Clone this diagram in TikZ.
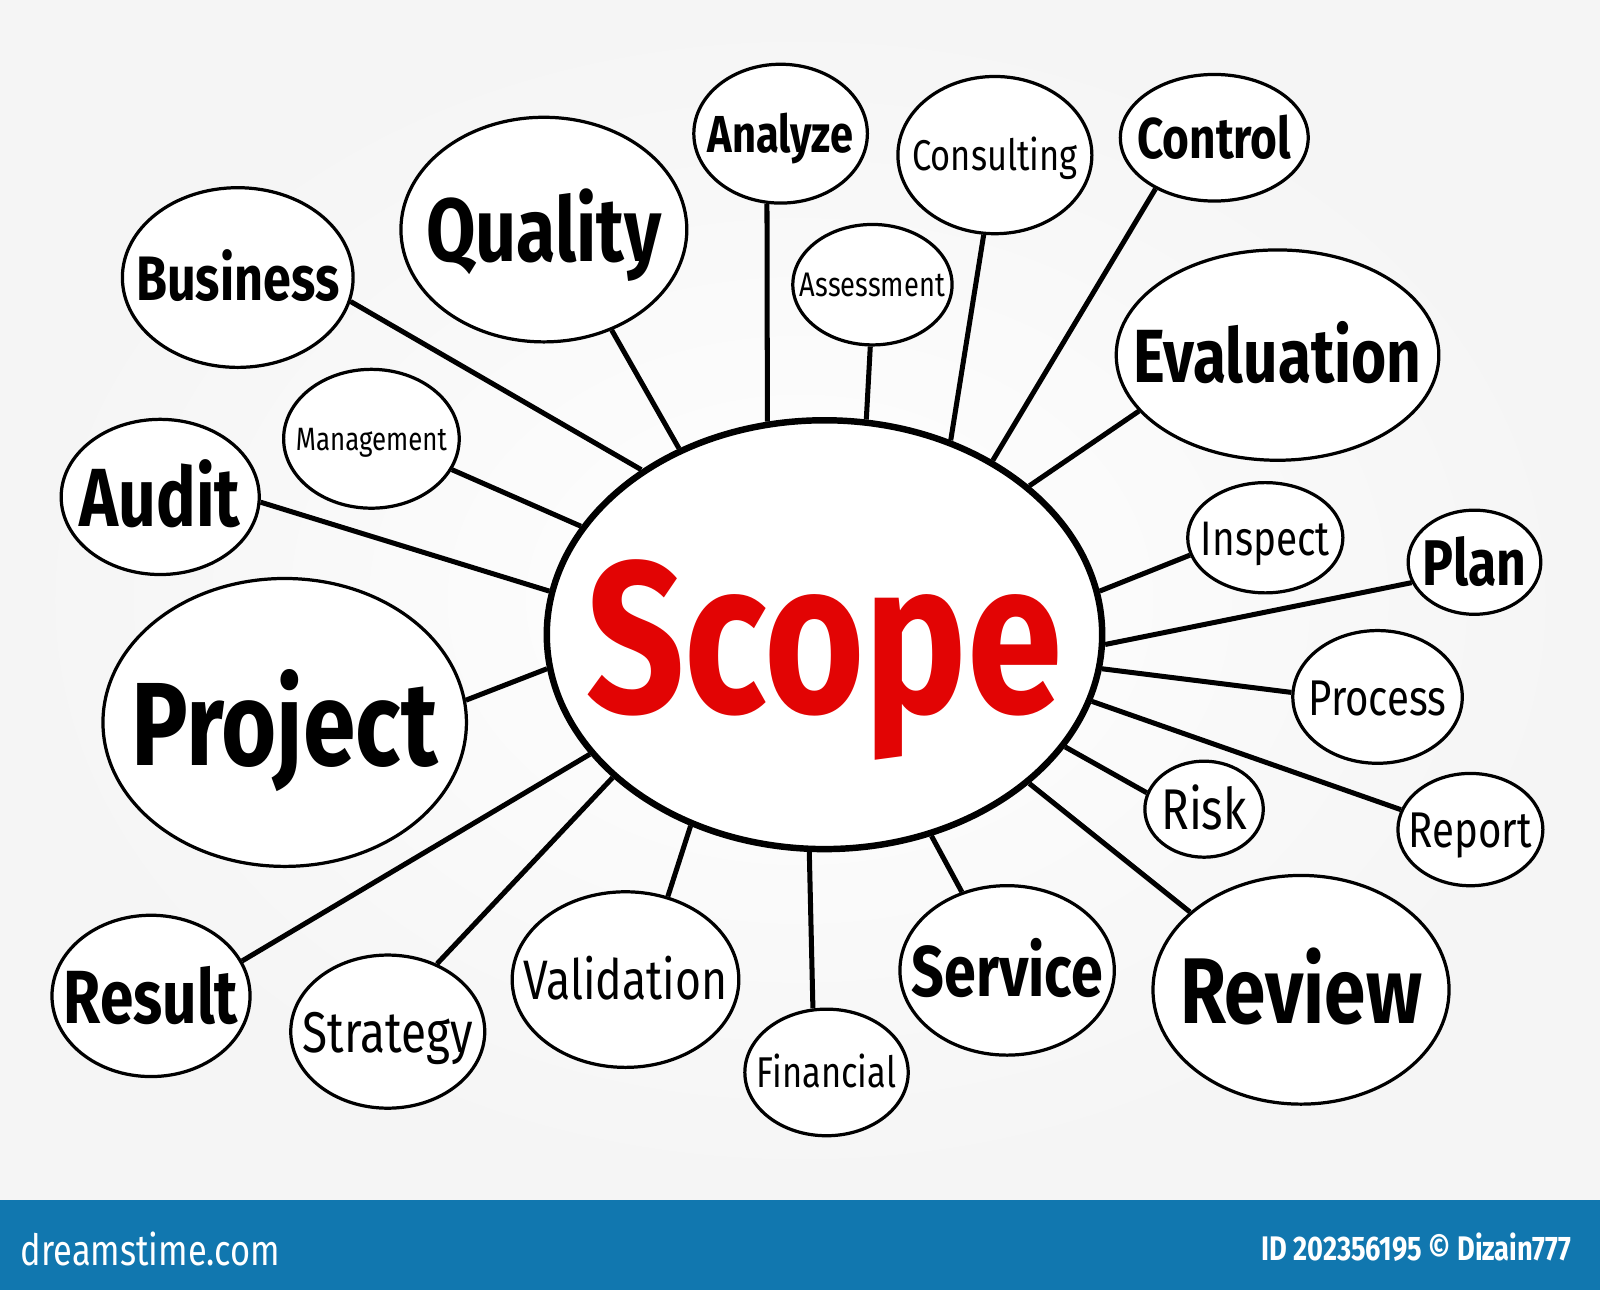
\documentclass[tikz,border=0pt]{standalone}
\usepackage{fontspec}
\setmainfont{Fira Sans}[FakeStretch=0.8]
\usepackage{tikz}
\usetikzlibrary{shapes}
\definecolor{scopered}{RGB}{226,4,4}
\definecolor{barblue}{RGB}{17,119,175}
\tikzstyle{bubble} = [draw, ellipse, line width=0.9pt, fill=white, inner sep=0pt]
\tikzstyle{hub} = [draw, ellipse, line width=1.8pt, fill=white, inner sep=0pt]
\tikzstyle{spoke} = [line width=1.4pt]
\newcommand{\fs}[1]{\fontsize{#1}{#1}\selectfont}
% word set on the centre of its bubble, without widening it
\newcommand{\word}[1]{\makebox[0pt]{\smash{\raisebox{-0.36em}{#1}}}}

\begin{document}
\begin{tikzpicture}[x=0.01cm,y=-0.01cm]
\useasboundingbox (0,0) rectangle (1568,1264);
\shade[inner color=white, outer color=black!4] (0,0) rectangle (1568,1176);
\fill[barblue] (0,1176) rectangle (1568,1264);

\node[hub, minimum width=5.44cm, minimum height=4.2cm, font=\fs{60}\bfseries, text=scopered] (scope) at (808,622) {\word{Scope}};

\node[bubble, minimum width=2.26cm, minimum height=1.76cm, font=\fs{17.5}\bfseries] (business) at (233,272) {\word{Business}};
\node[bubble, minimum width=2.8cm, minimum height=2.2cm, font=\fs{25}\bfseries] (quality) at (533,225) {\word{Quality}};
\node[bubble, minimum width=1.7cm, minimum height=1.36cm, font=\fs{14.5}\bfseries] (analyze) at (765,131) {\word{Analyze}};
\node[bubble, minimum width=1.56cm, minimum height=1.18cm, font=\fs{9.5}] (assessment) at (855,279) {\word{Assessment}};
\node[bubble, minimum width=1.9cm, minimum height=1.54cm, font=\fs{12}] (consulting) at (975,152) {\word{Consulting}};
\node[bubble, minimum width=1.84cm, minimum height=1.24cm, font=\fs{16}\bfseries] (control) at (1190,135) {\word{Control}};
\node[bubble, minimum width=3.16cm, minimum height=2.06cm, font=\fs{21}\bfseries] (evaluation) at (1252,348) {\word{Evaluation}};
\node[bubble, minimum width=1.72cm, minimum height=1.36cm, font=\fs{9}] (management) at (364,430) {\word{Management}};
\node[bubble, minimum width=1.94cm, minimum height=1.52cm, font=\fs{23}\bfseries] (audit) at (157,487) {\word{Audit}};
\node[bubble, minimum width=3.56cm, minimum height=2.82cm, font=\fs{33}\bfseries] (project) at (279,708) {\word{Project}};
\node[bubble, minimum width=1.52cm, minimum height=1.08cm, font=\fs{13.5}] (inspect) at (1240,527) {\word{Inspect}};
\node[bubble, minimum width=1.3cm, minimum height=1.02cm, font=\fs{18}\bfseries] (plan) at (1445,551) {\word{Plan}};
\node[bubble, minimum width=1.66cm, minimum height=1.3cm, font=\fs{14}] (process) at (1350,683) {\word{Process}};
\node[bubble, minimum width=1.16cm, minimum height=0.94cm, font=\fs{16}] (risk) at (1180,793) {\word{Risk}};
\node[bubble, minimum width=1.42cm, minimum height=1.1cm, font=\fs{14}] (report) at (1441,813) {\word{Report}};
\node[bubble, minimum width=2.9cm, minimum height=2.24cm, font=\fs{26}\bfseries] (review) at (1275,970) {\word{Review}};
\node[bubble, minimum width=2.1cm, minimum height=1.66cm, font=\fs{20}\bfseries] (service) at (987,951) {\word{Service}};
\node[bubble, minimum width=1.6cm, minimum height=1.24cm, font=\fs{12}] (financial) at (810,1051) {\word{Financial}};
\node[bubble, minimum width=2.22cm, minimum height=1.72cm, font=\fs{15.5}] (validation) at (613,960) {\word{Validation}};
\node[bubble, minimum width=1.9cm, minimum height=1.5cm, font=\fs{16}] (strategy) at (380,1011) {\word{Strategy}};
\node[bubble, minimum width=1.94cm, minimum height=1.58cm, font=\fs{21}\bfseries] (result) at (148,976) {\word{Result}};

\path
(scope.138.4) edge [spoke] (business.348.6)
(scope.128.1) edge [spoke] (quality.304.4)
(scope.105.8) edge [spoke] (analyze.259.5)
(scope.79.2) edge [spoke] (assessment.268)
(scope.57.4) edge [spoke] (consulting.262.7)
(scope.46) edge [spoke] (control.221)
(scope.36.5) edge [spoke] (evaluation.202)
(scope.156.6) edge [spoke] (management.339.7)
(scope.171.2) edge [spoke] (audit.357)
(scope.187.3) edge [spoke] (project.7.7)
(scope.9.2) edge [spoke] (inspect.193.5)
(scope.358.8) edge [spoke] (plan.198)
(scope.353) edge [spoke] (process.177)
(scope.335) edge [spoke] (risk.164)
(scope.346.6) edge [spoke] (report.164.5)
(scope.324) edge [spoke] (review.145)
(scope.298.4) edge [spoke] (service.120.4)
(scope.266) edge [spoke] (financial.102)
(scope.235.8) edge [spoke] (validation.63)
(scope.214.5) edge [spoke] (strategy.54.5)
(scope.207) edge [spoke] (result.21.9);

\node[anchor=west, text=white, font=\fs{12}] (brand) at (8,1224) {dreamstime.com};
\node[anchor=east, text=white, font=\fs{9.5}\bfseries] (imgid) at (1552,1222) {ID 202356195 © Dizain777};
\end{tikzpicture}
\end{document}
